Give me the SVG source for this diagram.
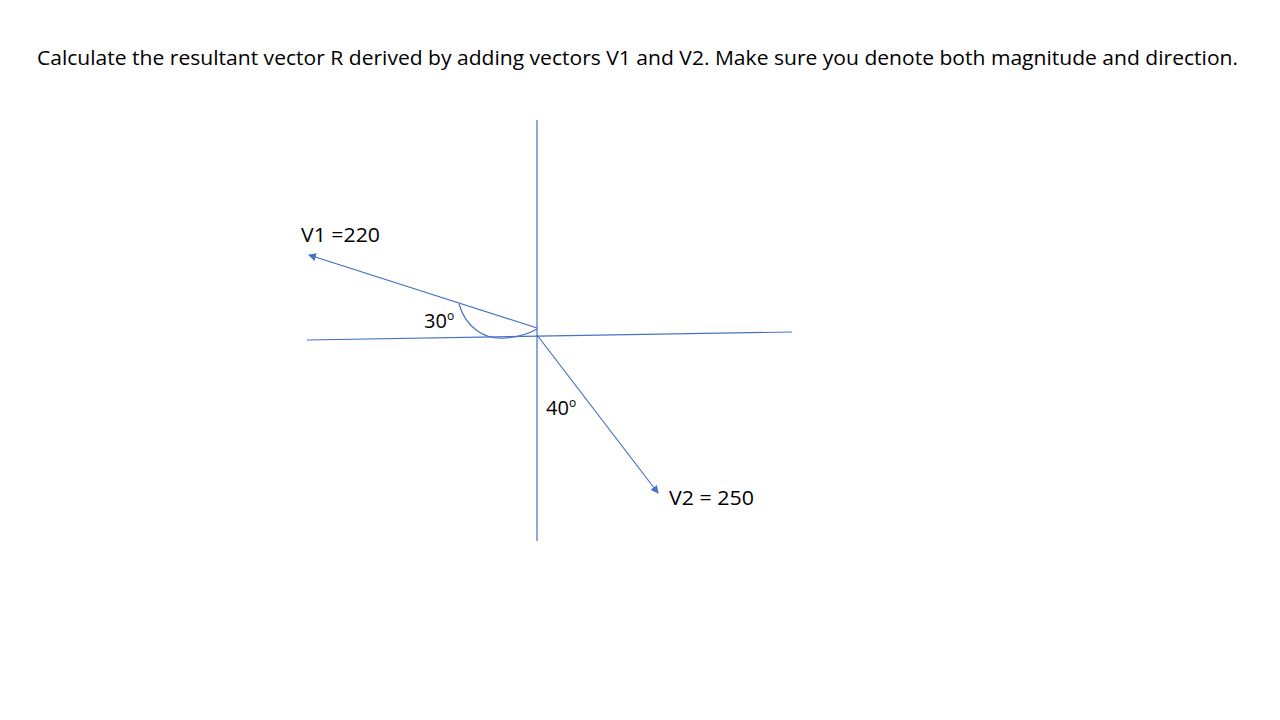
<svg xmlns="http://www.w3.org/2000/svg" width="1280" height="720" viewBox="0 0 1280 720">
<style>
.t{font-family:"Open Sans","Liberation Sans",sans-serif;fill:#000;font-size:20px}
.l{stroke:#4472C4;stroke-width:1.2;fill:none}
.sup{font-size:12px}
</style>
<defs>
<marker id="ah" markerWidth="8" markerHeight="8" refX="7" refY="4" orient="auto" markerUnits="userSpaceOnUse">
<path d="M0,0 L8,4 L0,8 Z" fill="#4472C4"/>
</marker>
</defs>
<rect width="1280" height="720" fill="#fff"/>
<text class="t" x="37" y="65" textLength="1201" lengthAdjust="spacingAndGlyphs">Calculate the resultant vector R derived by adding vectors V1 and V2. Make sure you denote both magnitude and direction.</text>
<g id="connectors">
<line class="l" x1="537" y1="120" x2="537" y2="541"/>
<line class="l" x1="307" y1="340" x2="792" y2="332"/>
<line class="l" x1="537" y1="328" x2="309" y2="255" marker-end="url(#ah)"/>
<line class="l" x1="537" y1="335" x2="658" y2="493" marker-end="url(#ah)"/>
<path class="l" d="M459,304 C466,328 485,340 505,338 C520,337 530,333 537,329"/>
</g>
<g id="v1"><text class="t" x="301" y="242" textLength="79" lengthAdjust="spacingAndGlyphs">V1 =220</text></g>
<g id="a30"><text class="t" x="424" y="328">30<tspan class="sup" dy="-8">o</tspan></text></g>
<g id="a40"><text class="t" x="546" y="415">40<tspan class="sup" dy="-8">o</tspan></text></g>
<g id="v2"><text class="t" x="669" y="505" textLength="85" lengthAdjust="spacingAndGlyphs">V2 = 250</text></g>
</svg>
